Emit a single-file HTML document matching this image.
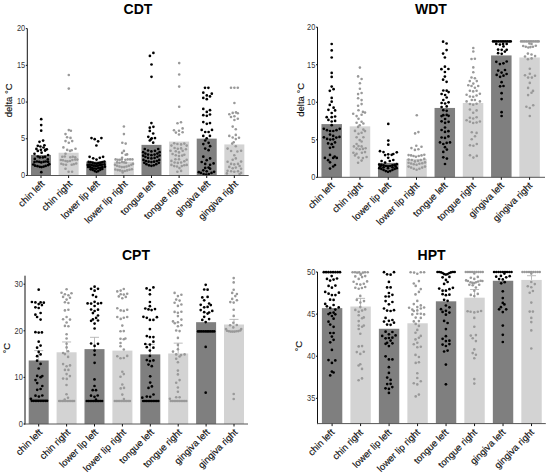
<!DOCTYPE html><html><head><meta charset="utf-8"><style>html,body{margin:0;padding:0;background:#fff;width:550px;height:474px;overflow:hidden}svg{display:block}text{font-family:"Liberation Sans",sans-serif}</style></head><body>
<svg width="550" height="474" viewBox="0 0 550 474">
<rect x="31.00" y="154.93" width="20.00" height="20.57" fill="#7f7f7f"/>
<rect x="58.62" y="152.73" width="20.00" height="22.77" fill="#d3d3d3"/>
<rect x="86.24" y="161.54" width="20.00" height="13.96" fill="#7f7f7f"/>
<rect x="113.86" y="161.76" width="20.00" height="13.74" fill="#d3d3d3"/>
<rect x="141.48" y="144.87" width="20.00" height="30.63" fill="#7f7f7f"/>
<rect x="169.10" y="141.57" width="20.00" height="33.93" fill="#d3d3d3"/>
<rect x="196.72" y="138.63" width="20.00" height="36.87" fill="#7f7f7f"/>
<rect x="224.34" y="144.43" width="20.00" height="31.07" fill="#d3d3d3"/>
<g fill="#000"><circle cx="41.2" cy="119.2" r="1.35"/><circle cx="41.2" cy="125.1" r="1.35"/><circle cx="41.2" cy="130.7" r="1.35"/><circle cx="39.5" cy="141.8" r="1.35"/><circle cx="43.1" cy="140.6" r="1.35"/><circle cx="37.8" cy="145.8" r="1.35"/><circle cx="40.4" cy="146.5" r="1.35"/><circle cx="44.4" cy="145.3" r="1.35"/><circle cx="43.5" cy="147.5" r="1.35"/><circle cx="36.4" cy="148.9" r="1.35"/><circle cx="40.9" cy="149.8" r="1.35"/><circle cx="45.3" cy="149.8" r="1.35"/><circle cx="46.8" cy="149.3" r="1.35"/><circle cx="37.8" cy="150.9" r="1.35"/><circle cx="41.6" cy="152.7" r="1.35"/><circle cx="45.1" cy="150.6" r="1.35"/><circle cx="34.5" cy="153.8" r="1.35"/><circle cx="48.1" cy="155.0" r="1.35"/><circle cx="37.8" cy="156.5" r="1.35"/><circle cx="39.8" cy="157.4" r="1.35"/><circle cx="42.8" cy="157.4" r="1.35"/><circle cx="45.1" cy="156.8" r="1.35"/><circle cx="34.8" cy="158.9" r="1.35"/><circle cx="47.8" cy="159.4" r="1.35"/><circle cx="34.5" cy="162.1" r="1.35"/><circle cx="36.9" cy="161.5" r="1.35"/><circle cx="39.2" cy="161.8" r="1.35"/><circle cx="41.3" cy="162.4" r="1.35"/><circle cx="43.7" cy="161.8" r="1.35"/><circle cx="45.7" cy="161.5" r="1.35"/><circle cx="48.1" cy="161.8" r="1.35"/><circle cx="33.3" cy="164.5" r="1.35"/><circle cx="35.1" cy="165.7" r="1.35"/><circle cx="37.5" cy="166.2" r="1.35"/><circle cx="39.8" cy="166.8" r="1.35"/><circle cx="41.6" cy="167.1" r="1.35"/><circle cx="43.7" cy="166.6" r="1.35"/><circle cx="45.7" cy="165.9" r="1.35"/><circle cx="48.1" cy="165.1" r="1.35"/><circle cx="49.3" cy="164.2" r="1.35"/><circle cx="41.3" cy="172.2" r="1.35"/></g>
<g fill="#999"><circle cx="68.8" cy="75.0" r="1.3"/><circle cx="68.8" cy="88.6" r="1.3"/><circle cx="68.8" cy="130.1" r="1.3"/><circle cx="70.9" cy="130.8" r="1.3"/><circle cx="65.5" cy="134.1" r="1.3"/><circle cx="67.1" cy="137.2" r="1.3"/><circle cx="70.5" cy="137.9" r="1.3"/><circle cx="65.5" cy="141.1" r="1.3"/><circle cx="68.8" cy="142.8" r="1.3"/><circle cx="72.2" cy="141.1" r="1.3"/><circle cx="63.4" cy="147.4" r="1.3"/><circle cx="67.2" cy="149.9" r="1.3"/><circle cx="70.0" cy="150.9" r="1.3"/><circle cx="71.7" cy="150.2" r="1.3"/><circle cx="75.5" cy="148.8" r="1.3"/><circle cx="65.5" cy="153.7" r="1.3"/><circle cx="62.3" cy="156.8" r="1.3"/><circle cx="64.8" cy="156.5" r="1.3"/><circle cx="70.3" cy="157.2" r="1.3"/><circle cx="72.8" cy="156.8" r="1.3"/><circle cx="75.2" cy="157.2" r="1.3"/><circle cx="60.9" cy="160.0" r="1.3"/><circle cx="63.0" cy="160.3" r="1.3"/><circle cx="65.5" cy="161.0" r="1.3"/><circle cx="67.5" cy="161.4" r="1.3"/><circle cx="70.0" cy="161.0" r="1.3"/><circle cx="72.4" cy="160.0" r="1.3"/><circle cx="75.2" cy="159.6" r="1.3"/><circle cx="77.3" cy="159.6" r="1.3"/><circle cx="61.3" cy="163.8" r="1.3"/><circle cx="63.4" cy="164.5" r="1.3"/><circle cx="66.1" cy="164.8" r="1.3"/><circle cx="71.7" cy="164.8" r="1.3"/><circle cx="73.8" cy="164.2" r="1.3"/><circle cx="76.2" cy="163.5" r="1.3"/><circle cx="65.5" cy="168.7" r="1.3"/><circle cx="68.6" cy="171.8" r="1.3"/><circle cx="72.1" cy="171.8" r="1.3"/></g>
<g fill="#000"><circle cx="91.5" cy="138.1" r="1.35"/><circle cx="94.7" cy="139.2" r="1.35"/><circle cx="101.4" cy="138.1" r="1.35"/><circle cx="98.1" cy="141.3" r="1.35"/><circle cx="96.4" cy="145.5" r="1.35"/><circle cx="89.6" cy="156.8" r="1.35"/><circle cx="93.2" cy="158.3" r="1.35"/><circle cx="96.5" cy="159.6" r="1.35"/><circle cx="99.8" cy="157.8" r="1.35"/><circle cx="103.1" cy="156.8" r="1.35"/><circle cx="88.6" cy="161.9" r="1.35"/><circle cx="90.6" cy="162.2" r="1.35"/><circle cx="92.7" cy="162.7" r="1.35"/><circle cx="94.7" cy="163.4" r="1.35"/><circle cx="96.5" cy="163.7" r="1.35"/><circle cx="98.3" cy="163.2" r="1.35"/><circle cx="100.3" cy="162.7" r="1.35"/><circle cx="102.3" cy="162.2" r="1.35"/><circle cx="104.4" cy="161.6" r="1.35"/><circle cx="87.8" cy="164.9" r="1.35"/><circle cx="89.6" cy="164.7" r="1.35"/><circle cx="91.7" cy="165.2" r="1.35"/><circle cx="93.7" cy="165.7" r="1.35"/><circle cx="95.7" cy="166.2" r="1.35"/><circle cx="97.8" cy="165.7" r="1.35"/><circle cx="99.8" cy="165.2" r="1.35"/><circle cx="101.8" cy="164.7" r="1.35"/><circle cx="104.4" cy="164.4" r="1.35"/><circle cx="88.1" cy="167.0" r="1.35"/><circle cx="90.1" cy="167.2" r="1.35"/><circle cx="92.2" cy="167.8" r="1.35"/><circle cx="94.2" cy="168.5" r="1.35"/><circle cx="96.2" cy="168.8" r="1.35"/><circle cx="98.3" cy="168.2" r="1.35"/><circle cx="100.3" cy="167.8" r="1.35"/><circle cx="102.3" cy="167.2" r="1.35"/><circle cx="104.9" cy="166.7" r="1.35"/><circle cx="90.6" cy="169.3" r="1.35"/><circle cx="92.7" cy="170.0" r="1.35"/><circle cx="94.7" cy="171.1" r="1.35"/><circle cx="96.5" cy="171.8" r="1.35"/><circle cx="98.3" cy="171.1" r="1.35"/><circle cx="100.3" cy="169.8" r="1.35"/><circle cx="102.3" cy="169.0" r="1.35"/></g>
<g fill="#999"><circle cx="123.9" cy="126.5" r="1.3"/><circle cx="123.9" cy="134.1" r="1.3"/><circle cx="122.3" cy="142.7" r="1.3"/><circle cx="125.7" cy="143.6" r="1.3"/><circle cx="123.9" cy="150.9" r="1.3"/><circle cx="122.1" cy="152.9" r="1.3"/><circle cx="125.7" cy="154.7" r="1.3"/><circle cx="127.1" cy="154.4" r="1.3"/><circle cx="122.1" cy="157.7" r="1.3"/><circle cx="115.6" cy="159.4" r="1.3"/><circle cx="117.7" cy="159.8" r="1.3"/><circle cx="119.8" cy="159.8" r="1.3"/><circle cx="121.8" cy="159.4" r="1.3"/><circle cx="125.4" cy="159.8" r="1.3"/><circle cx="127.7" cy="159.4" r="1.3"/><circle cx="130.1" cy="159.4" r="1.3"/><circle cx="132.4" cy="159.4" r="1.3"/><circle cx="117.1" cy="162.4" r="1.3"/><circle cx="119.5" cy="162.7" r="1.3"/><circle cx="122.1" cy="162.1" r="1.3"/><circle cx="124.2" cy="162.4" r="1.3"/><circle cx="126.0" cy="162.7" r="1.3"/><circle cx="115.0" cy="164.8" r="1.3"/><circle cx="117.1" cy="165.7" r="1.3"/><circle cx="119.5" cy="166.5" r="1.3"/><circle cx="121.8" cy="167.1" r="1.3"/><circle cx="124.2" cy="167.1" r="1.3"/><circle cx="126.5" cy="166.5" r="1.3"/><circle cx="128.9" cy="165.7" r="1.3"/><circle cx="131.3" cy="164.8" r="1.3"/><circle cx="133.0" cy="163.9" r="1.3"/><circle cx="115.3" cy="169.5" r="1.3"/><circle cx="117.7" cy="170.1" r="1.3"/><circle cx="120.0" cy="170.4" r="1.3"/><circle cx="122.4" cy="171.0" r="1.3"/><circle cx="124.8" cy="171.0" r="1.3"/><circle cx="127.1" cy="170.4" r="1.3"/><circle cx="129.5" cy="169.8" r="1.3"/><circle cx="131.9" cy="169.2" r="1.3"/><circle cx="122.7" cy="172.4" r="1.3"/></g>
<g fill="#000"><circle cx="153.4" cy="52.9" r="1.35"/><circle cx="149.9" cy="55.9" r="1.35"/><circle cx="151.5" cy="64.5" r="1.35"/><circle cx="151.5" cy="76.8" r="1.35"/><circle cx="151.4" cy="123.1" r="1.35"/><circle cx="149.8" cy="127.7" r="1.35"/><circle cx="153.4" cy="126.8" r="1.35"/><circle cx="149.8" cy="130.9" r="1.35"/><circle cx="153.2" cy="133.5" r="1.35"/><circle cx="148.3" cy="136.8" r="1.35"/><circle cx="151.7" cy="138.3" r="1.35"/><circle cx="155.0" cy="138.1" r="1.35"/><circle cx="149.8" cy="140.5" r="1.35"/><circle cx="150.9" cy="139.4" r="1.35"/><circle cx="153.2" cy="142.7" r="1.35"/><circle cx="144.8" cy="149.0" r="1.35"/><circle cx="148.1" cy="150.5" r="1.35"/><circle cx="151.4" cy="151.4" r="1.35"/><circle cx="155.0" cy="150.8" r="1.35"/><circle cx="158.2" cy="149.0" r="1.35"/><circle cx="143.2" cy="152.2" r="1.35"/><circle cx="145.4" cy="153.6" r="1.35"/><circle cx="148.1" cy="154.6" r="1.35"/><circle cx="151.4" cy="155.2" r="1.35"/><circle cx="154.6" cy="154.6" r="1.35"/><circle cx="157.4" cy="153.6" r="1.35"/><circle cx="159.6" cy="152.2" r="1.35"/><circle cx="143.2" cy="155.7" r="1.35"/><circle cx="145.4" cy="156.8" r="1.35"/><circle cx="148.1" cy="157.9" r="1.35"/><circle cx="151.4" cy="158.4" r="1.35"/><circle cx="154.6" cy="157.9" r="1.35"/><circle cx="157.4" cy="156.8" r="1.35"/><circle cx="159.6" cy="155.5" r="1.35"/><circle cx="143.5" cy="159.9" r="1.35"/><circle cx="145.9" cy="161.0" r="1.35"/><circle cx="148.6" cy="161.7" r="1.35"/><circle cx="151.4" cy="162.1" r="1.35"/><circle cx="154.1" cy="161.7" r="1.35"/><circle cx="156.8" cy="161.0" r="1.35"/><circle cx="159.2" cy="159.9" r="1.35"/><circle cx="144.3" cy="162.8" r="1.35"/><circle cx="146.4" cy="164.2" r="1.35"/><circle cx="149.0" cy="165.3" r="1.35"/><circle cx="151.4" cy="165.8" r="1.35"/><circle cx="153.8" cy="165.3" r="1.35"/><circle cx="156.3" cy="164.2" r="1.35"/><circle cx="158.8" cy="162.8" r="1.35"/></g>
<g fill="#999"><circle cx="179.2" cy="63.1" r="1.3"/><circle cx="179.2" cy="74.5" r="1.3"/><circle cx="179.2" cy="86.6" r="1.3"/><circle cx="179.2" cy="106.7" r="1.3"/><circle cx="177.5" cy="123.2" r="1.3"/><circle cx="181.0" cy="122.2" r="1.3"/><circle cx="182.6" cy="128.4" r="1.3"/><circle cx="174.0" cy="130.2" r="1.3"/><circle cx="179.0" cy="130.8" r="1.3"/><circle cx="175.9" cy="132.6" r="1.3"/><circle cx="182.6" cy="132.3" r="1.3"/><circle cx="179.0" cy="134.5" r="1.3"/><circle cx="174.2" cy="143.2" r="1.3"/><circle cx="177.4" cy="144.0" r="1.3"/><circle cx="181.1" cy="144.4" r="1.3"/><circle cx="184.3" cy="143.6" r="1.3"/><circle cx="171.4" cy="145.6" r="1.3"/><circle cx="186.7" cy="145.6" r="1.3"/><circle cx="174.6" cy="148.0" r="1.3"/><circle cx="177.8" cy="148.8" r="1.3"/><circle cx="181.1" cy="148.4" r="1.3"/><circle cx="185.9" cy="149.2" r="1.3"/><circle cx="170.6" cy="150.8" r="1.3"/><circle cx="175.8" cy="151.2" r="1.3"/><circle cx="182.7" cy="150.8" r="1.3"/><circle cx="179.0" cy="152.4" r="1.3"/><circle cx="172.6" cy="154.0" r="1.3"/><circle cx="175.8" cy="155.2" r="1.3"/><circle cx="179.0" cy="156.1" r="1.3"/><circle cx="182.2" cy="155.6" r="1.3"/><circle cx="184.3" cy="154.8" r="1.3"/><circle cx="175.4" cy="159.3" r="1.3"/><circle cx="179.0" cy="159.3" r="1.3"/><circle cx="186.7" cy="159.7" r="1.3"/><circle cx="171.4" cy="160.9" r="1.3"/><circle cx="174.6" cy="162.5" r="1.3"/><circle cx="177.8" cy="162.9" r="1.3"/><circle cx="181.1" cy="162.5" r="1.3"/><circle cx="184.3" cy="161.3" r="1.3"/><circle cx="171.4" cy="164.9" r="1.3"/><circle cx="174.2" cy="166.1" r="1.3"/><circle cx="177.0" cy="166.5" r="1.3"/><circle cx="179.4" cy="168.1" r="1.3"/><circle cx="181.8" cy="166.1" r="1.3"/><circle cx="184.3" cy="165.3" r="1.3"/><circle cx="186.7" cy="164.9" r="1.3"/><circle cx="177.4" cy="171.7" r="1.3"/><circle cx="181.1" cy="170.9" r="1.3"/></g>
<g fill="#000"><circle cx="205.0" cy="87.8" r="1.35"/><circle cx="208.4" cy="87.8" r="1.35"/><circle cx="203.3" cy="92.7" r="1.35"/><circle cx="211.8" cy="93.7" r="1.35"/><circle cx="206.8" cy="95.4" r="1.35"/><circle cx="210.0" cy="96.4" r="1.35"/><circle cx="203.3" cy="97.9" r="1.35"/><circle cx="206.8" cy="99.2" r="1.35"/><circle cx="203.3" cy="108.9" r="1.35"/><circle cx="210.0" cy="110.2" r="1.35"/><circle cx="206.8" cy="111.9" r="1.35"/><circle cx="203.3" cy="115.2" r="1.35"/><circle cx="206.8" cy="115.8" r="1.35"/><circle cx="210.0" cy="114.5" r="1.35"/><circle cx="203.3" cy="122.1" r="1.35"/><circle cx="206.8" cy="123.8" r="1.35"/><circle cx="210.0" cy="123.1" r="1.35"/><circle cx="201.7" cy="129.9" r="1.35"/><circle cx="205.2" cy="132.0" r="1.35"/><circle cx="208.6" cy="132.0" r="1.35"/><circle cx="212.0" cy="129.9" r="1.35"/><circle cx="203.3" cy="135.9" r="1.35"/><circle cx="209.9" cy="135.9" r="1.35"/><circle cx="206.7" cy="138.3" r="1.35"/><circle cx="205.2" cy="140.5" r="1.35"/><circle cx="208.6" cy="142.8" r="1.35"/><circle cx="203.3" cy="144.1" r="1.35"/><circle cx="210.1" cy="146.2" r="1.35"/><circle cx="205.2" cy="148.6" r="1.35"/><circle cx="208.6" cy="150.2" r="1.35"/><circle cx="203.3" cy="156.7" r="1.35"/><circle cx="210.1" cy="158.4" r="1.35"/><circle cx="206.7" cy="160.2" r="1.35"/><circle cx="201.7" cy="162.0" r="1.35"/><circle cx="205.2" cy="163.9" r="1.35"/><circle cx="210.1" cy="164.8" r="1.35"/><circle cx="213.6" cy="163.4" r="1.35"/><circle cx="205.2" cy="167.9" r="1.35"/><circle cx="208.6" cy="167.6" r="1.35"/><circle cx="210.1" cy="168.7" r="1.35"/><circle cx="203.3" cy="170.3" r="1.35"/><circle cx="206.7" cy="171.3" r="1.35"/><circle cx="198.8" cy="172.2" r="1.35"/><circle cx="200.9" cy="172.9" r="1.35"/><circle cx="203.6" cy="174.0" r="1.35"/><circle cx="206.2" cy="174.5" r="1.35"/><circle cx="208.8" cy="174.0" r="1.35"/><circle cx="211.5" cy="172.9" r="1.35"/><circle cx="214.1" cy="171.8" r="1.35"/></g>
<g fill="#999"><circle cx="231.0" cy="87.8" r="1.3"/><circle cx="234.4" cy="87.8" r="1.3"/><circle cx="237.8" cy="87.8" r="1.3"/><circle cx="234.4" cy="103.0" r="1.3"/><circle cx="229.3" cy="114.3" r="1.3"/><circle cx="232.7" cy="112.9" r="1.3"/><circle cx="236.0" cy="112.4" r="1.3"/><circle cx="237.8" cy="113.2" r="1.3"/><circle cx="231.0" cy="117.0" r="1.3"/><circle cx="234.4" cy="116.3" r="1.3"/><circle cx="237.8" cy="118.7" r="1.3"/><circle cx="234.4" cy="120.0" r="1.3"/><circle cx="232.7" cy="126.6" r="1.3"/><circle cx="235.8" cy="129.3" r="1.3"/><circle cx="235.8" cy="134.9" r="1.3"/><circle cx="229.3" cy="135.9" r="1.3"/><circle cx="232.7" cy="137.5" r="1.3"/><circle cx="239.0" cy="137.7" r="1.3"/><circle cx="235.8" cy="139.1" r="1.3"/><circle cx="233.7" cy="142.3" r="1.3"/><circle cx="232.2" cy="143.6" r="1.3"/><circle cx="235.8" cy="146.2" r="1.3"/><circle cx="227.6" cy="148.6" r="1.3"/><circle cx="231.1" cy="151.0" r="1.3"/><circle cx="237.4" cy="151.5" r="1.3"/><circle cx="241.1" cy="150.7" r="1.3"/><circle cx="234.3" cy="155.3" r="1.3"/><circle cx="235.8" cy="158.4" r="1.3"/><circle cx="232.7" cy="159.7" r="1.3"/><circle cx="227.6" cy="161.8" r="1.3"/><circle cx="241.1" cy="161.6" r="1.3"/><circle cx="231.1" cy="163.9" r="1.3"/><circle cx="234.3" cy="164.4" r="1.3"/><circle cx="238.0" cy="163.9" r="1.3"/><circle cx="239.6" cy="166.0" r="1.3"/><circle cx="229.3" cy="166.9" r="1.3"/><circle cx="232.7" cy="168.2" r="1.3"/><circle cx="235.8" cy="167.6" r="1.3"/><circle cx="241.1" cy="168.7" r="1.3"/><circle cx="227.6" cy="170.8" r="1.3"/><circle cx="231.1" cy="171.3" r="1.3"/><circle cx="234.3" cy="171.8" r="1.3"/><circle cx="238.0" cy="171.3" r="1.3"/><circle cx="241.1" cy="172.9" r="1.3"/><circle cx="226.9" cy="173.4" r="1.3"/><circle cx="239.6" cy="174.0" r="1.3"/></g>
<path d="M27.3,28.6 V176.0" fill="none" stroke="#111" stroke-width="1"/>
<path d="M26.8,175.5 H248.7" fill="none" stroke="#555" stroke-width="1"/>
<path d="M25.8,175.50 H27.3" stroke="#111" stroke-width="1"/>
<text transform="translate(25.1,177.70) scale(0.88,1)" font-size="8.4" fill="#333" text-anchor="end">0</text>
<path d="M25.8,138.78 H27.3" stroke="#111" stroke-width="1"/>
<text transform="translate(25.1,140.97) scale(0.88,1)" font-size="8.4" fill="#333" text-anchor="end">5</text>
<path d="M25.8,102.05 H27.3" stroke="#111" stroke-width="1"/>
<text transform="translate(25.1,104.25) scale(0.88,1)" font-size="8.4" fill="#333" text-anchor="end">10</text>
<path d="M25.8,65.32 H27.3" stroke="#111" stroke-width="1"/>
<text transform="translate(25.1,67.52) scale(0.88,1)" font-size="8.4" fill="#333" text-anchor="end">15</text>
<path d="M25.8,28.60 H27.3" stroke="#111" stroke-width="1"/>
<text transform="translate(25.1,30.80) scale(0.88,1)" font-size="8.4" fill="#333" text-anchor="end">20</text>
<path d="M41.00,175.5 V178.0" stroke="#111" stroke-width="1"/>
<text transform="translate(45.20,184.30) rotate(-45)" font-size="9.5" fill="#111" stroke="#111" stroke-width="0.15" text-anchor="end">chin left</text>
<path d="M68.62,175.5 V178.0" stroke="#111" stroke-width="1"/>
<text transform="translate(72.82,184.30) rotate(-45)" font-size="9.5" fill="#111" stroke="#111" stroke-width="0.15" text-anchor="end">chin right</text>
<path d="M96.24,175.5 V178.0" stroke="#111" stroke-width="1"/>
<text transform="translate(100.44,184.30) rotate(-45)" font-size="9.5" fill="#111" stroke="#111" stroke-width="0.15" text-anchor="end">lower lip left</text>
<path d="M123.86,175.5 V178.0" stroke="#111" stroke-width="1"/>
<text transform="translate(128.06,184.30) rotate(-45)" font-size="9.5" fill="#111" stroke="#111" stroke-width="0.15" text-anchor="end">lower lip right</text>
<path d="M151.48,175.5 V178.0" stroke="#111" stroke-width="1"/>
<text transform="translate(155.68,184.30) rotate(-45)" font-size="9.5" fill="#111" stroke="#111" stroke-width="0.15" text-anchor="end">tongue left</text>
<path d="M179.10,175.5 V178.0" stroke="#111" stroke-width="1"/>
<text transform="translate(183.30,184.30) rotate(-45)" font-size="9.5" fill="#111" stroke="#111" stroke-width="0.15" text-anchor="end">tongue right</text>
<path d="M206.72,175.5 V178.0" stroke="#111" stroke-width="1"/>
<text transform="translate(210.92,184.30) rotate(-45)" font-size="9.5" fill="#111" stroke="#111" stroke-width="0.15" text-anchor="end">gingiva left</text>
<path d="M234.34,175.5 V178.0" stroke="#111" stroke-width="1"/>
<text transform="translate(238.54,184.30) rotate(-45)" font-size="9.5" fill="#111" stroke="#111" stroke-width="0.15" text-anchor="end">gingiva right</text>
<text x="138" y="14" font-size="14" font-weight="bold" fill="#000" text-anchor="middle">CDT</text>
<text transform="translate(11.5,100.3) rotate(-90)" font-size="9.5" fill="#111" stroke="#111" stroke-width="0.15" text-anchor="middle">delta °C</text>
<rect x="321.45" y="124.09" width="20.50" height="53.21" fill="#7f7f7f"/>
<rect x="349.72" y="126.34" width="20.50" height="50.96" fill="#d3d3d3"/>
<rect x="377.99" y="162.89" width="20.50" height="14.41" fill="#7f7f7f"/>
<rect x="406.26" y="158.91" width="20.50" height="18.39" fill="#d3d3d3"/>
<rect x="434.53" y="107.95" width="20.50" height="69.35" fill="#7f7f7f"/>
<rect x="462.80" y="103.00" width="20.50" height="74.30" fill="#d3d3d3"/>
<rect x="491.07" y="55.42" width="20.50" height="121.88" fill="#7f7f7f"/>
<rect x="519.34" y="57.45" width="20.50" height="119.85" fill="#d3d3d3"/>
<g fill="#000"><circle cx="331.7" cy="44.0" r="1.35"/><circle cx="331.7" cy="50.4" r="1.35"/><circle cx="331.7" cy="57.5" r="1.35"/><circle cx="331.7" cy="72.9" r="1.35"/><circle cx="331.7" cy="76.9" r="1.35"/><circle cx="331.7" cy="86.6" r="1.35"/><circle cx="333.6" cy="89.2" r="1.35"/><circle cx="329.8" cy="90.8" r="1.35"/><circle cx="331.7" cy="97.9" r="1.35"/><circle cx="331.7" cy="101.7" r="1.35"/><circle cx="329.8" cy="104.9" r="1.35"/><circle cx="333.6" cy="107.7" r="1.35"/><circle cx="328.4" cy="109.8" r="1.35"/><circle cx="335.1" cy="110.4" r="1.35"/><circle cx="331.7" cy="113.0" r="1.35"/><circle cx="326.7" cy="117.2" r="1.35"/><circle cx="331.7" cy="117.2" r="1.35"/><circle cx="335.1" cy="116.5" r="1.35"/><circle cx="328.4" cy="119.9" r="1.35"/><circle cx="331.7" cy="121.5" r="1.35"/><circle cx="335.1" cy="120.9" r="1.35"/><circle cx="331.7" cy="125.2" r="1.35"/><circle cx="323.8" cy="128.8" r="1.35"/><circle cx="327.0" cy="130.2" r="1.35"/><circle cx="330.1" cy="131.0" r="1.35"/><circle cx="333.3" cy="131.0" r="1.35"/><circle cx="336.5" cy="130.2" r="1.35"/><circle cx="339.7" cy="128.8" r="1.35"/><circle cx="330.0" cy="134.6" r="1.35"/><circle cx="333.2" cy="135.9" r="1.35"/><circle cx="323.9" cy="137.3" r="1.35"/><circle cx="327.1" cy="138.9" r="1.35"/><circle cx="330.2" cy="139.6" r="1.35"/><circle cx="333.2" cy="139.3" r="1.35"/><circle cx="336.3" cy="137.6" r="1.35"/><circle cx="339.5" cy="136.9" r="1.35"/><circle cx="328.1" cy="143.4" r="1.35"/><circle cx="331.7" cy="144.2" r="1.35"/><circle cx="335.0" cy="142.4" r="1.35"/><circle cx="330.0" cy="147.8" r="1.35"/><circle cx="333.2" cy="147.0" r="1.35"/><circle cx="330.0" cy="154.9" r="1.35"/><circle cx="324.9" cy="157.9" r="1.35"/><circle cx="333.2" cy="157.9" r="1.35"/><circle cx="334.7" cy="156.6" r="1.35"/><circle cx="336.8" cy="157.9" r="1.35"/><circle cx="328.1" cy="160.2" r="1.35"/><circle cx="330.0" cy="162.3" r="1.35"/><circle cx="335.0" cy="165.0" r="1.35"/><circle cx="333.2" cy="166.5" r="1.35"/><circle cx="330.0" cy="168.6" r="1.35"/></g>
<g fill="#999"><circle cx="359.9" cy="67.6" r="1.3"/><circle cx="358.1" cy="76.4" r="1.3"/><circle cx="361.6" cy="79.0" r="1.3"/><circle cx="359.9" cy="83.2" r="1.3"/><circle cx="359.9" cy="88.8" r="1.3"/><circle cx="358.1" cy="94.1" r="1.3"/><circle cx="361.6" cy="93.0" r="1.3"/><circle cx="358.1" cy="98.3" r="1.3"/><circle cx="361.6" cy="100.1" r="1.3"/><circle cx="361.6" cy="104.1" r="1.3"/><circle cx="358.1" cy="105.7" r="1.3"/><circle cx="358.5" cy="110.2" r="1.3"/><circle cx="362.9" cy="111.9" r="1.3"/><circle cx="365.0" cy="112.6" r="1.3"/><circle cx="353.2" cy="113.7" r="1.3"/><circle cx="361.6" cy="114.8" r="1.3"/><circle cx="356.6" cy="116.1" r="1.3"/><circle cx="358.5" cy="118.7" r="1.3"/><circle cx="356.6" cy="122.7" r="1.3"/><circle cx="361.6" cy="121.8" r="1.3"/><circle cx="363.4" cy="123.5" r="1.3"/><circle cx="359.7" cy="125.3" r="1.3"/><circle cx="358.1" cy="126.9" r="1.3"/><circle cx="355.0" cy="130.9" r="1.3"/><circle cx="363.4" cy="129.6" r="1.3"/><circle cx="365.0" cy="131.1" r="1.3"/><circle cx="358.5" cy="133.8" r="1.3"/><circle cx="361.6" cy="132.7" r="1.3"/><circle cx="356.6" cy="137.3" r="1.3"/><circle cx="363.4" cy="137.3" r="1.3"/><circle cx="359.7" cy="140.1" r="1.3"/><circle cx="361.6" cy="141.5" r="1.3"/><circle cx="356.6" cy="144.0" r="1.3"/><circle cx="353.9" cy="146.4" r="1.3"/><circle cx="358.5" cy="146.1" r="1.3"/><circle cx="361.6" cy="146.4" r="1.3"/><circle cx="356.6" cy="148.6" r="1.3"/><circle cx="359.7" cy="149.3" r="1.3"/><circle cx="362.9" cy="148.9" r="1.3"/><circle cx="365.6" cy="148.2" r="1.3"/><circle cx="353.4" cy="152.8" r="1.3"/><circle cx="356.6" cy="153.8" r="1.3"/><circle cx="361.9" cy="152.8" r="1.3"/><circle cx="365.0" cy="152.1" r="1.3"/><circle cx="355.0" cy="155.4" r="1.3"/><circle cx="358.5" cy="157.6" r="1.3"/><circle cx="362.9" cy="158.1" r="1.3"/><circle cx="366.6" cy="157.0" r="1.3"/><circle cx="361.6" cy="160.6" r="1.3"/><circle cx="358.1" cy="162.7" r="1.3"/></g>
<g fill="#000"><circle cx="388.3" cy="123.9" r="1.35"/><circle cx="388.3" cy="140.6" r="1.35"/><circle cx="388.3" cy="144.7" r="1.35"/><circle cx="380.0" cy="151.2" r="1.35"/><circle cx="383.5" cy="152.1" r="1.35"/><circle cx="385.1" cy="155.1" r="1.35"/><circle cx="388.2" cy="154.3" r="1.35"/><circle cx="391.7" cy="154.8" r="1.35"/><circle cx="393.3" cy="154.0" r="1.35"/><circle cx="396.8" cy="152.3" r="1.35"/><circle cx="388.2" cy="157.8" r="1.35"/><circle cx="381.6" cy="161.0" r="1.35"/><circle cx="385.1" cy="162.6" r="1.35"/><circle cx="389.8" cy="161.0" r="1.35"/><circle cx="393.3" cy="160.0" r="1.35"/><circle cx="379.3" cy="164.6" r="1.35"/><circle cx="381.4" cy="164.9" r="1.35"/><circle cx="383.6" cy="165.3" r="1.35"/><circle cx="385.8" cy="166.0" r="1.35"/><circle cx="388.0" cy="166.4" r="1.35"/><circle cx="390.2" cy="166.0" r="1.35"/><circle cx="392.4" cy="165.3" r="1.35"/><circle cx="394.6" cy="164.9" r="1.35"/><circle cx="396.7" cy="164.2" r="1.35"/><circle cx="380.4" cy="166.4" r="1.35"/><circle cx="383.6" cy="167.3" r="1.35"/><circle cx="388.0" cy="168.2" r="1.35"/><circle cx="392.4" cy="167.3" r="1.35"/><circle cx="395.6" cy="166.4" r="1.35"/><circle cx="379.3" cy="168.2" r="1.35"/><circle cx="381.4" cy="168.9" r="1.35"/><circle cx="383.6" cy="170.0" r="1.35"/><circle cx="385.8" cy="171.1" r="1.35"/><circle cx="388.0" cy="171.8" r="1.35"/><circle cx="390.2" cy="171.1" r="1.35"/><circle cx="392.4" cy="170.0" r="1.35"/><circle cx="394.6" cy="168.9" r="1.35"/><circle cx="396.7" cy="168.2" r="1.35"/></g>
<g fill="#999"><circle cx="416.8" cy="115.2" r="1.3"/><circle cx="415.1" cy="133.4" r="1.3"/><circle cx="418.4" cy="132.1" r="1.3"/><circle cx="416.3" cy="145.7" r="1.3"/><circle cx="421.5" cy="146.7" r="1.3"/><circle cx="411.4" cy="148.1" r="1.3"/><circle cx="414.9" cy="149.9" r="1.3"/><circle cx="418.4" cy="149.2" r="1.3"/><circle cx="408.6" cy="155.1" r="1.3"/><circle cx="411.1" cy="155.4" r="1.3"/><circle cx="413.5" cy="156.0" r="1.3"/><circle cx="415.9" cy="156.8" r="1.3"/><circle cx="418.7" cy="156.0" r="1.3"/><circle cx="421.5" cy="155.4" r="1.3"/><circle cx="424.3" cy="154.8" r="1.3"/><circle cx="408.6" cy="159.6" r="1.3"/><circle cx="411.8" cy="160.0" r="1.3"/><circle cx="414.9" cy="161.4" r="1.3"/><circle cx="418.0" cy="160.7" r="1.3"/><circle cx="420.8" cy="160.0" r="1.3"/><circle cx="424.3" cy="158.9" r="1.3"/><circle cx="408.6" cy="162.8" r="1.3"/><circle cx="411.1" cy="163.5" r="1.3"/><circle cx="413.8" cy="164.2" r="1.3"/><circle cx="416.6" cy="164.8" r="1.3"/><circle cx="419.4" cy="163.8" r="1.3"/><circle cx="422.2" cy="163.2" r="1.3"/><circle cx="425.0" cy="162.4" r="1.3"/><circle cx="408.6" cy="166.6" r="1.3"/><circle cx="411.1" cy="167.6" r="1.3"/><circle cx="413.8" cy="168.7" r="1.3"/><circle cx="416.6" cy="169.7" r="1.3"/><circle cx="419.4" cy="168.7" r="1.3"/><circle cx="422.2" cy="167.6" r="1.3"/><circle cx="425.0" cy="166.6" r="1.3"/></g>
<g fill="#000"><circle cx="443.1" cy="41.7" r="1.35"/><circle cx="446.6" cy="43.5" r="1.35"/><circle cx="446.6" cy="50.1" r="1.35"/><circle cx="443.1" cy="53.6" r="1.35"/><circle cx="444.9" cy="57.5" r="1.35"/><circle cx="444.9" cy="66.7" r="1.35"/><circle cx="441.4" cy="69.2" r="1.35"/><circle cx="448.4" cy="69.0" r="1.35"/><circle cx="444.9" cy="72.0" r="1.35"/><circle cx="444.9" cy="76.6" r="1.35"/><circle cx="443.1" cy="79.7" r="1.35"/><circle cx="446.6" cy="81.8" r="1.35"/><circle cx="443.3" cy="90.5" r="1.35"/><circle cx="446.7" cy="90.7" r="1.35"/><circle cx="448.6" cy="92.1" r="1.35"/><circle cx="441.6" cy="94.0" r="1.35"/><circle cx="445.1" cy="95.0" r="1.35"/><circle cx="446.7" cy="97.5" r="1.35"/><circle cx="443.3" cy="100.0" r="1.35"/><circle cx="441.6" cy="103.0" r="1.35"/><circle cx="445.1" cy="103.5" r="1.35"/><circle cx="448.6" cy="102.3" r="1.35"/><circle cx="441.6" cy="107.0" r="1.35"/><circle cx="446.7" cy="106.4" r="1.35"/><circle cx="443.3" cy="110.2" r="1.35"/><circle cx="446.7" cy="110.8" r="1.35"/><circle cx="441.6" cy="116.1" r="1.35"/><circle cx="443.3" cy="115.2" r="1.35"/><circle cx="446.7" cy="114.9" r="1.35"/><circle cx="448.6" cy="115.8" r="1.35"/><circle cx="445.1" cy="119.0" r="1.35"/><circle cx="441.6" cy="121.3" r="1.35"/><circle cx="445.1" cy="122.8" r="1.35"/><circle cx="448.6" cy="121.8" r="1.35"/><circle cx="445.0" cy="127.5" r="1.35"/><circle cx="441.6" cy="130.0" r="1.35"/><circle cx="445.0" cy="131.9" r="1.35"/><circle cx="448.4" cy="131.2" r="1.35"/><circle cx="441.6" cy="137.5" r="1.35"/><circle cx="445.0" cy="137.9" r="1.35"/><circle cx="448.4" cy="136.4" r="1.35"/><circle cx="440.0" cy="142.4" r="1.35"/><circle cx="443.3" cy="144.0" r="1.35"/><circle cx="446.7" cy="142.9" r="1.35"/><circle cx="450.0" cy="142.4" r="1.35"/><circle cx="445.0" cy="147.2" r="1.35"/><circle cx="446.9" cy="149.6" r="1.35"/><circle cx="443.3" cy="151.9" r="1.35"/><circle cx="443.3" cy="157.3" r="1.35"/><circle cx="446.9" cy="158.6" r="1.35"/><circle cx="445.0" cy="164.0" r="1.35"/></g>
<g fill="#999"><circle cx="473.3" cy="48.0" r="1.3"/><circle cx="473.3" cy="51.5" r="1.3"/><circle cx="471.5" cy="59.0" r="1.3"/><circle cx="474.9" cy="58.7" r="1.3"/><circle cx="473.3" cy="67.4" r="1.3"/><circle cx="473.3" cy="72.3" r="1.3"/><circle cx="471.5" cy="77.5" r="1.3"/><circle cx="474.9" cy="78.3" r="1.3"/><circle cx="469.8" cy="81.1" r="1.3"/><circle cx="476.8" cy="81.1" r="1.3"/><circle cx="473.3" cy="83.6" r="1.3"/><circle cx="468.3" cy="85.2" r="1.3"/><circle cx="471.5" cy="86.0" r="1.3"/><circle cx="474.9" cy="87.8" r="1.3"/><circle cx="478.2" cy="86.0" r="1.3"/><circle cx="469.9" cy="90.8" r="1.3"/><circle cx="473.2" cy="91.4" r="1.3"/><circle cx="476.6" cy="90.8" r="1.3"/><circle cx="466.6" cy="94.8" r="1.3"/><circle cx="469.9" cy="96.5" r="1.3"/><circle cx="473.2" cy="96.8" r="1.3"/><circle cx="476.6" cy="95.5" r="1.3"/><circle cx="479.9" cy="93.8" r="1.3"/><circle cx="466.6" cy="101.4" r="1.3"/><circle cx="471.8" cy="100.0" r="1.3"/><circle cx="474.9" cy="100.0" r="1.3"/><circle cx="479.9" cy="101.4" r="1.3"/><circle cx="469.9" cy="104.0" r="1.3"/><circle cx="473.2" cy="104.7" r="1.3"/><circle cx="476.6" cy="103.8" r="1.3"/><circle cx="469.9" cy="109.5" r="1.3"/><circle cx="476.6" cy="110.4" r="1.3"/><circle cx="473.2" cy="112.8" r="1.3"/><circle cx="469.9" cy="117.7" r="1.3"/><circle cx="473.2" cy="118.5" r="1.3"/><circle cx="476.6" cy="117.3" r="1.3"/><circle cx="466.6" cy="120.2" r="1.3"/><circle cx="469.9" cy="121.8" r="1.3"/><circle cx="473.2" cy="123.0" r="1.3"/><circle cx="476.6" cy="122.5" r="1.3"/><circle cx="479.9" cy="121.5" r="1.3"/><circle cx="471.8" cy="132.2" r="1.3"/><circle cx="476.6" cy="132.9" r="1.3"/><circle cx="475.0" cy="136.3" r="1.3"/><circle cx="471.7" cy="139.3" r="1.3"/><circle cx="470.0" cy="145.2" r="1.3"/><circle cx="473.4" cy="145.7" r="1.3"/><circle cx="476.8" cy="144.0" r="1.3"/><circle cx="470.0" cy="155.2" r="1.3"/><circle cx="473.4" cy="157.6" r="1.3"/><circle cx="476.8" cy="155.9" r="1.3"/></g>
<g fill="#000"><circle cx="493.1" cy="41.4" r="1.35"/><circle cx="494.9" cy="41.4" r="1.35"/><circle cx="496.7" cy="41.4" r="1.35"/><circle cx="498.5" cy="41.4" r="1.35"/><circle cx="500.3" cy="41.4" r="1.35"/><circle cx="502.1" cy="41.4" r="1.35"/><circle cx="503.9" cy="41.4" r="1.35"/><circle cx="505.7" cy="41.4" r="1.35"/><circle cx="507.4" cy="41.4" r="1.35"/><circle cx="509.2" cy="41.4" r="1.35"/><circle cx="510.7" cy="41.4" r="1.35"/><circle cx="496.3" cy="43.9" r="1.35"/><circle cx="499.9" cy="44.6" r="1.35"/><circle cx="503.1" cy="43.9" r="1.35"/><circle cx="506.7" cy="43.9" r="1.35"/><circle cx="503.5" cy="46.4" r="1.35"/><circle cx="498.1" cy="49.6" r="1.35"/><circle cx="501.7" cy="49.8" r="1.35"/><circle cx="506.7" cy="49.8" r="1.35"/><circle cx="504.9" cy="51.6" r="1.35"/><circle cx="498.1" cy="53.2" r="1.35"/><circle cx="501.7" cy="53.8" r="1.35"/><circle cx="496.3" cy="61.8" r="1.35"/><circle cx="499.9" cy="64.1" r="1.35"/><circle cx="503.4" cy="63.3" r="1.35"/><circle cx="506.7" cy="61.5" r="1.35"/><circle cx="498.2" cy="70.6" r="1.35"/><circle cx="505.0" cy="70.0" r="1.35"/><circle cx="501.6" cy="72.6" r="1.35"/><circle cx="496.7" cy="74.9" r="1.35"/><circle cx="500.1" cy="76.8" r="1.35"/><circle cx="503.5" cy="75.7" r="1.35"/><circle cx="506.6" cy="74.0" r="1.35"/><circle cx="501.6" cy="82.2" r="1.35"/><circle cx="500.1" cy="86.3" r="1.35"/><circle cx="503.5" cy="86.0" r="1.35"/><circle cx="501.6" cy="93.2" r="1.35"/><circle cx="501.6" cy="99.1" r="1.35"/><circle cx="501.6" cy="112.2" r="1.35"/><circle cx="501.6" cy="116.0" r="1.35"/></g>
<g fill="#999"><circle cx="521.1" cy="41.4" r="1.3"/><circle cx="522.9" cy="41.4" r="1.3"/><circle cx="524.7" cy="41.4" r="1.3"/><circle cx="526.5" cy="41.4" r="1.3"/><circle cx="528.3" cy="41.4" r="1.3"/><circle cx="530.1" cy="41.4" r="1.3"/><circle cx="531.9" cy="41.4" r="1.3"/><circle cx="533.7" cy="41.4" r="1.3"/><circle cx="535.5" cy="41.4" r="1.3"/><circle cx="537.2" cy="41.4" r="1.3"/><circle cx="538.7" cy="41.4" r="1.3"/><circle cx="529.4" cy="43.5" r="1.3"/><circle cx="531.5" cy="43.9" r="1.3"/><circle cx="523.2" cy="46.0" r="1.3"/><circle cx="525.8" cy="46.8" r="1.3"/><circle cx="528.3" cy="47.5" r="1.3"/><circle cx="530.4" cy="47.1" r="1.3"/><circle cx="532.9" cy="46.8" r="1.3"/><circle cx="535.8" cy="45.7" r="1.3"/><circle cx="527.9" cy="53.6" r="1.3"/><circle cx="531.5" cy="54.5" r="1.3"/><circle cx="525.0" cy="56.5" r="1.3"/><circle cx="535.1" cy="56.1" r="1.3"/><circle cx="527.9" cy="59.3" r="1.3"/><circle cx="531.6" cy="58.4" r="1.3"/><circle cx="529.8" cy="68.8" r="1.3"/><circle cx="529.8" cy="73.8" r="1.3"/><circle cx="525.0" cy="75.3" r="1.3"/><circle cx="528.1" cy="77.6" r="1.3"/><circle cx="531.9" cy="77.6" r="1.3"/><circle cx="535.0" cy="75.7" r="1.3"/><circle cx="529.8" cy="82.9" r="1.3"/><circle cx="528.1" cy="87.9" r="1.3"/><circle cx="533.0" cy="90.9" r="1.3"/><circle cx="531.5" cy="92.8" r="1.3"/><circle cx="528.1" cy="95.1" r="1.3"/><circle cx="526.4" cy="106.8" r="1.3"/><circle cx="529.8" cy="108.0" r="1.3"/><circle cx="533.2" cy="105.3" r="1.3"/><circle cx="529.8" cy="116.0" r="1.3"/></g>
<path d="M317.5,27.2 V177.8" fill="none" stroke="#111" stroke-width="1"/>
<path d="M317.0,177.3 H545" fill="none" stroke="#555" stroke-width="1"/>
<path d="M316.0,177.30 H317.5" stroke="#111" stroke-width="1"/>
<text transform="translate(315.3,180.30) scale(0.88,1)" font-size="8.4" fill="#333" text-anchor="end">0</text>
<path d="M316.0,139.78 H317.5" stroke="#111" stroke-width="1"/>
<text transform="translate(315.3,142.78) scale(0.88,1)" font-size="8.4" fill="#333" text-anchor="end">5</text>
<path d="M316.0,102.25 H317.5" stroke="#111" stroke-width="1"/>
<text transform="translate(315.3,105.25) scale(0.88,1)" font-size="8.4" fill="#333" text-anchor="end">10</text>
<path d="M316.0,64.72 H317.5" stroke="#111" stroke-width="1"/>
<text transform="translate(315.3,67.72) scale(0.88,1)" font-size="8.4" fill="#333" text-anchor="end">15</text>
<path d="M316.0,27.20 H317.5" stroke="#111" stroke-width="1"/>
<text transform="translate(315.3,30.20) scale(0.88,1)" font-size="8.4" fill="#333" text-anchor="end">20</text>
<path d="M331.70,177.3 V179.8" stroke="#111" stroke-width="1"/>
<text transform="translate(335.10,186.10) rotate(-45)" font-size="9.5" fill="#111" stroke="#111" stroke-width="0.15" text-anchor="end">chin left</text>
<path d="M359.97,177.3 V179.8" stroke="#111" stroke-width="1"/>
<text transform="translate(363.37,186.10) rotate(-45)" font-size="9.5" fill="#111" stroke="#111" stroke-width="0.15" text-anchor="end">chin right</text>
<path d="M388.24,177.3 V179.8" stroke="#111" stroke-width="1"/>
<text transform="translate(391.64,186.10) rotate(-45)" font-size="9.5" fill="#111" stroke="#111" stroke-width="0.15" text-anchor="end">lower lip left</text>
<path d="M416.51,177.3 V179.8" stroke="#111" stroke-width="1"/>
<text transform="translate(419.91,186.10) rotate(-45)" font-size="9.5" fill="#111" stroke="#111" stroke-width="0.15" text-anchor="end">lower lip right</text>
<path d="M444.78,177.3 V179.8" stroke="#111" stroke-width="1"/>
<text transform="translate(448.18,186.10) rotate(-45)" font-size="9.5" fill="#111" stroke="#111" stroke-width="0.15" text-anchor="end">tongue left</text>
<path d="M473.05,177.3 V179.8" stroke="#111" stroke-width="1"/>
<text transform="translate(476.45,186.10) rotate(-45)" font-size="9.5" fill="#111" stroke="#111" stroke-width="0.15" text-anchor="end">tongue right</text>
<path d="M501.32,177.3 V179.8" stroke="#111" stroke-width="1"/>
<text transform="translate(504.72,186.10) rotate(-45)" font-size="9.5" fill="#111" stroke="#111" stroke-width="0.15" text-anchor="end">gingiva left</text>
<path d="M529.59,177.3 V179.8" stroke="#111" stroke-width="1"/>
<text transform="translate(532.99,186.10) rotate(-45)" font-size="9.5" fill="#111" stroke="#111" stroke-width="0.15" text-anchor="end">gingiva right</text>
<text x="431" y="14.2" font-size="14" font-weight="bold" fill="#000" text-anchor="middle">WDT</text>
<text transform="translate(303.7,99.8) rotate(-90)" font-size="9.5" fill="#111" stroke="#111" stroke-width="0.15" text-anchor="middle">delta °C</text>
<rect x="28.70" y="360.48" width="20.00" height="63.52" fill="#7f7f7f"/>
<rect x="56.60" y="352.28" width="20.00" height="71.72" fill="#d3d3d3"/>
<rect x="84.50" y="349.11" width="20.00" height="74.89" fill="#7f7f7f"/>
<rect x="112.40" y="350.61" width="20.00" height="73.39" fill="#d3d3d3"/>
<rect x="140.30" y="354.38" width="20.00" height="69.62" fill="#7f7f7f"/>
<rect x="168.20" y="353.49" width="20.00" height="70.51" fill="#d3d3d3"/>
<rect x="196.10" y="322.18" width="20.00" height="101.82" fill="#7f7f7f"/>
<rect x="224.00" y="324.51" width="20.00" height="99.49" fill="#d3d3d3"/>
<path d="M38.70,360.48 V350.61 M34.20,350.61 H43.20" stroke="#aaa" stroke-width="0.8" fill="none"/>
<path d="M66.60,352.28 V341.98 M62.10,341.98 H71.10" stroke="#aaa" stroke-width="0.8" fill="none"/>
<path d="M94.50,349.11 V337.32 M90.00,337.32 H99.00" stroke="#aaa" stroke-width="0.8" fill="none"/>
<path d="M150.30,354.38 V344.31 M145.80,344.31 H154.80" stroke="#aaa" stroke-width="0.8" fill="none"/>
<path d="M178.20,353.49 V343.15 M173.70,343.15 H182.70" stroke="#aaa" stroke-width="0.8" fill="none"/>
<path d="M234.00,324.51 V319.38 M229.50,319.38 H238.50" stroke="#aaa" stroke-width="0.8" fill="none"/>
<g fill="#000"><circle cx="38.7" cy="289.7" r="1.35"/><circle cx="31.9" cy="302.0" r="1.35"/><circle cx="35.4" cy="302.4" r="1.35"/><circle cx="38.7" cy="304.1" r="1.35"/><circle cx="40.6" cy="302.4" r="1.35"/><circle cx="43.8" cy="302.7" r="1.35"/><circle cx="41.9" cy="305.1" r="1.35"/><circle cx="35.4" cy="307.3" r="1.35"/><circle cx="38.7" cy="308.0" r="1.35"/><circle cx="40.6" cy="313.0" r="1.35"/><circle cx="35.4" cy="314.7" r="1.35"/><circle cx="37.1" cy="317.0" r="1.35"/><circle cx="40.6" cy="319.6" r="1.35"/><circle cx="35.4" cy="332.2" r="1.35"/><circle cx="38.7" cy="332.6" r="1.35"/><circle cx="41.9" cy="332.4" r="1.35"/><circle cx="38.7" cy="341.7" r="1.35"/><circle cx="40.6" cy="345.6" r="1.35"/><circle cx="37.1" cy="347.7" r="1.35"/><circle cx="38.7" cy="351.9" r="1.35"/><circle cx="40.6" cy="354.4" r="1.35"/><circle cx="37.1" cy="356.2" r="1.35"/><circle cx="37.1" cy="360.7" r="1.35"/><circle cx="40.6" cy="363.9" r="1.35"/><circle cx="38.7" cy="368.5" r="1.35"/><circle cx="37.2" cy="375.9" r="1.35"/><circle cx="40.6" cy="377.2" r="1.35"/><circle cx="42.3" cy="376.1" r="1.35"/><circle cx="35.5" cy="380.1" r="1.35"/><circle cx="37.2" cy="383.1" r="1.35"/><circle cx="42.3" cy="386.0" r="1.35"/><circle cx="40.6" cy="389.0" r="1.35"/><circle cx="37.2" cy="389.8" r="1.35"/><circle cx="35.5" cy="395.7" r="1.35"/><circle cx="38.9" cy="396.6" r="1.35"/><circle cx="42.3" cy="395.5" r="1.35"/><circle cx="30.9" cy="398.8" r="1.35"/><circle cx="31.8" cy="400.8" r="1.35"/><circle cx="33.5" cy="400.8" r="1.35"/><circle cx="35.2" cy="400.8" r="1.35"/><circle cx="36.9" cy="400.8" r="1.35"/><circle cx="38.6" cy="400.8" r="1.35"/><circle cx="40.3" cy="400.8" r="1.35"/><circle cx="42.0" cy="400.8" r="1.35"/><circle cx="43.7" cy="400.8" r="1.35"/><circle cx="45.4" cy="400.8" r="1.35"/><circle cx="47.1" cy="400.8" r="1.35"/></g>
<g fill="#999"><circle cx="66.6" cy="289.3" r="1.3"/><circle cx="61.5" cy="292.7" r="1.3"/><circle cx="64.9" cy="294.3" r="1.3"/><circle cx="68.4" cy="295.3" r="1.3"/><circle cx="71.5" cy="293.2" r="1.3"/><circle cx="63.1" cy="296.9" r="1.3"/><circle cx="70.0" cy="297.8" r="1.3"/><circle cx="66.6" cy="299.6" r="1.3"/><circle cx="64.9" cy="302.2" r="1.3"/><circle cx="68.4" cy="303.0" r="1.3"/><circle cx="64.9" cy="310.4" r="1.3"/><circle cx="68.4" cy="309.8" r="1.3"/><circle cx="66.6" cy="317.0" r="1.3"/><circle cx="63.1" cy="319.3" r="1.3"/><circle cx="70.0" cy="319.6" r="1.3"/><circle cx="66.6" cy="322.5" r="1.3"/><circle cx="64.9" cy="325.9" r="1.3"/><circle cx="68.4" cy="326.3" r="1.3"/><circle cx="66.6" cy="334.3" r="1.3"/><circle cx="66.6" cy="338.5" r="1.3"/><circle cx="66.6" cy="343.8" r="1.3"/><circle cx="66.6" cy="347.4" r="1.3"/><circle cx="68.1" cy="351.2" r="1.3"/><circle cx="63.1" cy="353.0" r="1.3"/><circle cx="64.9" cy="354.1" r="1.3"/><circle cx="68.1" cy="356.9" r="1.3"/><circle cx="63.1" cy="364.1" r="1.3"/><circle cx="66.6" cy="366.2" r="1.3"/><circle cx="70.0" cy="365.4" r="1.3"/><circle cx="64.9" cy="369.9" r="1.3"/><circle cx="68.4" cy="369.9" r="1.3"/><circle cx="66.6" cy="374.1" r="1.3"/><circle cx="69.9" cy="376.1" r="1.3"/><circle cx="63.1" cy="378.6" r="1.3"/><circle cx="66.8" cy="378.9" r="1.3"/><circle cx="66.5" cy="385.0" r="1.3"/><circle cx="66.5" cy="394.3" r="1.3"/><circle cx="68.0" cy="397.8" r="1.3"/><circle cx="64.7" cy="399.5" r="1.3"/><circle cx="59.2" cy="401.0" r="1.3"/><circle cx="60.8" cy="401.0" r="1.3"/><circle cx="62.5" cy="401.0" r="1.3"/><circle cx="64.1" cy="401.0" r="1.3"/><circle cx="65.8" cy="401.0" r="1.3"/><circle cx="67.5" cy="401.0" r="1.3"/><circle cx="69.1" cy="401.0" r="1.3"/><circle cx="70.8" cy="401.0" r="1.3"/><circle cx="72.4" cy="401.0" r="1.3"/><circle cx="74.1" cy="401.0" r="1.3"/></g>
<g fill="#000"><circle cx="94.6" cy="286.7" r="1.35"/><circle cx="91.1" cy="288.8" r="1.35"/><circle cx="98.0" cy="288.8" r="1.35"/><circle cx="94.6" cy="290.7" r="1.35"/><circle cx="92.9" cy="295.1" r="1.35"/><circle cx="96.1" cy="296.8" r="1.35"/><circle cx="94.6" cy="301.8" r="1.35"/><circle cx="87.6" cy="303.4" r="1.35"/><circle cx="91.1" cy="303.6" r="1.35"/><circle cx="98.0" cy="303.6" r="1.35"/><circle cx="101.1" cy="303.1" r="1.35"/><circle cx="94.6" cy="306.0" r="1.35"/><circle cx="91.1" cy="309.5" r="1.35"/><circle cx="94.6" cy="311.0" r="1.35"/><circle cx="98.0" cy="309.7" r="1.35"/><circle cx="92.9" cy="313.1" r="1.35"/><circle cx="98.0" cy="315.5" r="1.35"/><circle cx="96.1" cy="317.9" r="1.35"/><circle cx="91.1" cy="320.8" r="1.35"/><circle cx="92.9" cy="319.4" r="1.35"/><circle cx="98.0" cy="320.5" r="1.35"/><circle cx="94.6" cy="323.6" r="1.35"/><circle cx="94.6" cy="328.5" r="1.35"/><circle cx="91.1" cy="343.5" r="1.35"/><circle cx="98.0" cy="343.8" r="1.35"/><circle cx="94.6" cy="345.9" r="1.35"/><circle cx="94.6" cy="350.6" r="1.35"/><circle cx="94.6" cy="354.8" r="1.35"/><circle cx="94.6" cy="362.8" r="1.35"/><circle cx="94.5" cy="379.4" r="1.35"/><circle cx="94.5" cy="386.0" r="1.35"/><circle cx="92.7" cy="390.2" r="1.35"/><circle cx="96.0" cy="390.2" r="1.35"/><circle cx="91.0" cy="395.7" r="1.35"/><circle cx="94.5" cy="396.8" r="1.35"/><circle cx="97.7" cy="395.5" r="1.35"/><circle cx="96.0" cy="399.7" r="1.35"/><circle cx="86.8" cy="401.0" r="1.35"/><circle cx="88.5" cy="401.0" r="1.35"/><circle cx="90.2" cy="401.0" r="1.35"/><circle cx="91.9" cy="401.0" r="1.35"/><circle cx="93.6" cy="401.0" r="1.35"/><circle cx="95.3" cy="401.0" r="1.35"/><circle cx="97.0" cy="401.0" r="1.35"/><circle cx="98.7" cy="401.0" r="1.35"/><circle cx="100.4" cy="401.0" r="1.35"/><circle cx="102.1" cy="401.0" r="1.35"/></g>
<g fill="#999"><circle cx="117.3" cy="291.4" r="1.3"/><circle cx="120.7" cy="290.6" r="1.3"/><circle cx="123.8" cy="289.0" r="1.3"/><circle cx="120.7" cy="294.3" r="1.3"/><circle cx="123.8" cy="294.6" r="1.3"/><circle cx="127.2" cy="293.7" r="1.3"/><circle cx="118.8" cy="296.4" r="1.3"/><circle cx="122.3" cy="298.2" r="1.3"/><circle cx="125.8" cy="296.9" r="1.3"/><circle cx="117.3" cy="308.3" r="1.3"/><circle cx="120.7" cy="310.4" r="1.3"/><circle cx="123.8" cy="310.9" r="1.3"/><circle cx="127.2" cy="309.8" r="1.3"/><circle cx="117.3" cy="317.0" r="1.3"/><circle cx="120.7" cy="318.9" r="1.3"/><circle cx="123.8" cy="317.8" r="1.3"/><circle cx="127.2" cy="317.0" r="1.3"/><circle cx="122.3" cy="325.6" r="1.3"/><circle cx="120.5" cy="331.3" r="1.3"/><circle cx="123.8" cy="331.1" r="1.3"/><circle cx="120.5" cy="338.7" r="1.3"/><circle cx="123.8" cy="339.3" r="1.3"/><circle cx="125.4" cy="338.5" r="1.3"/><circle cx="120.5" cy="343.0" r="1.3"/><circle cx="120.5" cy="346.3" r="1.3"/><circle cx="123.8" cy="349.5" r="1.3"/><circle cx="117.3" cy="356.2" r="1.3"/><circle cx="120.5" cy="358.3" r="1.3"/><circle cx="123.8" cy="358.0" r="1.3"/><circle cx="127.2" cy="355.9" r="1.3"/><circle cx="122.3" cy="371.7" r="1.3"/><circle cx="123.8" cy="374.1" r="1.3"/><circle cx="120.5" cy="376.8" r="1.3"/><circle cx="122.3" cy="384.5" r="1.3"/><circle cx="120.7" cy="388.4" r="1.3"/><circle cx="124.0" cy="387.9" r="1.3"/><circle cx="122.3" cy="394.6" r="1.3"/><circle cx="123.9" cy="399.1" r="1.3"/><circle cx="114.8" cy="401.0" r="1.3"/><circle cx="116.4" cy="401.0" r="1.3"/><circle cx="118.1" cy="401.0" r="1.3"/><circle cx="119.8" cy="401.0" r="1.3"/><circle cx="121.5" cy="401.0" r="1.3"/><circle cx="123.2" cy="401.0" r="1.3"/><circle cx="124.9" cy="401.0" r="1.3"/><circle cx="126.5" cy="401.0" r="1.3"/><circle cx="128.2" cy="401.0" r="1.3"/><circle cx="129.9" cy="401.0" r="1.3"/></g>
<g fill="#000"><circle cx="146.6" cy="288.4" r="1.35"/><circle cx="149.9" cy="290.0" r="1.35"/><circle cx="153.4" cy="287.4" r="1.35"/><circle cx="149.9" cy="294.3" r="1.35"/><circle cx="149.9" cy="302.0" r="1.35"/><circle cx="149.9" cy="306.2" r="1.35"/><circle cx="145.3" cy="308.5" r="1.35"/><circle cx="148.5" cy="309.4" r="1.35"/><circle cx="151.6" cy="310.1" r="1.35"/><circle cx="155.0" cy="309.1" r="1.35"/><circle cx="143.4" cy="316.8" r="1.35"/><circle cx="146.8" cy="317.8" r="1.35"/><circle cx="149.9" cy="319.9" r="1.35"/><circle cx="153.4" cy="319.9" r="1.35"/><circle cx="156.9" cy="317.2" r="1.35"/><circle cx="149.9" cy="329.1" r="1.35"/><circle cx="146.8" cy="336.1" r="1.35"/><circle cx="149.9" cy="337.1" r="1.35"/><circle cx="153.4" cy="337.1" r="1.35"/><circle cx="153.4" cy="341.7" r="1.35"/><circle cx="145.3" cy="344.0" r="1.35"/><circle cx="149.9" cy="344.6" r="1.35"/><circle cx="146.8" cy="347.2" r="1.35"/><circle cx="153.4" cy="347.7" r="1.35"/><circle cx="149.9" cy="350.6" r="1.35"/><circle cx="149.9" cy="355.9" r="1.35"/><circle cx="146.8" cy="360.1" r="1.35"/><circle cx="149.9" cy="361.1" r="1.35"/><circle cx="153.4" cy="360.4" r="1.35"/><circle cx="148.5" cy="364.6" r="1.35"/><circle cx="151.8" cy="366.2" r="1.35"/><circle cx="150.2" cy="376.3" r="1.35"/><circle cx="150.2" cy="382.6" r="1.35"/><circle cx="148.5" cy="387.9" r="1.35"/><circle cx="151.9" cy="386.4" r="1.35"/><circle cx="142.3" cy="397.7" r="1.35"/><circle cx="146.8" cy="396.6" r="1.35"/><circle cx="150.2" cy="396.8" r="1.35"/><circle cx="153.5" cy="394.5" r="1.35"/><circle cx="143.2" cy="401.0" r="1.35"/><circle cx="144.9" cy="401.0" r="1.35"/><circle cx="146.5" cy="401.0" r="1.35"/><circle cx="148.2" cy="401.0" r="1.35"/><circle cx="149.9" cy="401.0" r="1.35"/><circle cx="151.6" cy="401.0" r="1.35"/><circle cx="153.3" cy="401.0" r="1.35"/><circle cx="155.0" cy="401.0" r="1.35"/><circle cx="156.7" cy="401.0" r="1.35"/><circle cx="158.3" cy="401.0" r="1.35"/></g>
<g fill="#999"><circle cx="174.6" cy="292.9" r="1.3"/><circle cx="177.9" cy="296.1" r="1.3"/><circle cx="181.4" cy="294.8" r="1.3"/><circle cx="176.2" cy="299.6" r="1.3"/><circle cx="179.6" cy="300.6" r="1.3"/><circle cx="174.6" cy="302.7" r="1.3"/><circle cx="177.9" cy="305.9" r="1.3"/><circle cx="181.4" cy="304.5" r="1.3"/><circle cx="174.6" cy="311.9" r="1.3"/><circle cx="177.9" cy="312.8" r="1.3"/><circle cx="181.4" cy="311.7" r="1.3"/><circle cx="177.9" cy="316.1" r="1.3"/><circle cx="181.4" cy="319.6" r="1.3"/><circle cx="173.0" cy="321.4" r="1.3"/><circle cx="174.8" cy="323.3" r="1.3"/><circle cx="177.9" cy="322.3" r="1.3"/><circle cx="177.9" cy="326.3" r="1.3"/><circle cx="181.4" cy="325.2" r="1.3"/><circle cx="176.2" cy="330.5" r="1.3"/><circle cx="179.6" cy="331.1" r="1.3"/><circle cx="177.9" cy="337.9" r="1.3"/><circle cx="177.9" cy="344.9" r="1.3"/><circle cx="177.9" cy="349.3" r="1.3"/><circle cx="173.0" cy="351.6" r="1.3"/><circle cx="176.2" cy="354.4" r="1.3"/><circle cx="179.6" cy="356.5" r="1.3"/><circle cx="181.1" cy="355.1" r="1.3"/><circle cx="184.6" cy="354.4" r="1.3"/><circle cx="176.2" cy="358.8" r="1.3"/><circle cx="177.9" cy="362.2" r="1.3"/><circle cx="177.9" cy="370.6" r="1.3"/><circle cx="177.9" cy="374.4" r="1.3"/><circle cx="179.6" cy="380.1" r="1.3"/><circle cx="176.2" cy="382.8" r="1.3"/><circle cx="177.9" cy="387.5" r="1.3"/><circle cx="177.9" cy="391.8" r="1.3"/><circle cx="176.2" cy="397.2" r="1.3"/><circle cx="179.6" cy="397.2" r="1.3"/><circle cx="169.9" cy="398.8" r="1.3"/><circle cx="170.8" cy="401.0" r="1.3"/><circle cx="172.5" cy="401.0" r="1.3"/><circle cx="174.2" cy="401.0" r="1.3"/><circle cx="175.9" cy="401.0" r="1.3"/><circle cx="177.7" cy="401.0" r="1.3"/><circle cx="179.4" cy="401.0" r="1.3"/><circle cx="181.2" cy="401.0" r="1.3"/><circle cx="182.9" cy="401.0" r="1.3"/><circle cx="184.6" cy="401.0" r="1.3"/><circle cx="186.3" cy="401.0" r="1.3"/></g>
<g fill="#000"><circle cx="205.7" cy="284.8" r="1.35"/><circle cx="204.2" cy="289.5" r="1.35"/><circle cx="207.6" cy="289.7" r="1.35"/><circle cx="202.3" cy="297.4" r="1.35"/><circle cx="207.6" cy="296.9" r="1.35"/><circle cx="204.2" cy="300.3" r="1.35"/><circle cx="200.7" cy="304.8" r="1.35"/><circle cx="209.1" cy="303.5" r="1.35"/><circle cx="210.8" cy="305.1" r="1.35"/><circle cx="204.2" cy="307.3" r="1.35"/><circle cx="207.6" cy="306.9" r="1.35"/><circle cx="200.7" cy="310.1" r="1.35"/><circle cx="204.2" cy="312.2" r="1.35"/><circle cx="207.6" cy="313.6" r="1.35"/><circle cx="209.1" cy="312.5" r="1.35"/><circle cx="212.3" cy="310.9" r="1.35"/><circle cx="204.2" cy="316.8" r="1.35"/><circle cx="202.3" cy="319.9" r="1.35"/><circle cx="209.1" cy="319.1" r="1.35"/><circle cx="205.7" cy="322.1" r="1.35"/><circle cx="198.1" cy="331.4" r="1.35"/><circle cx="199.9" cy="331.4" r="1.35"/><circle cx="201.7" cy="331.4" r="1.35"/><circle cx="203.5" cy="331.4" r="1.35"/><circle cx="205.3" cy="331.4" r="1.35"/><circle cx="207.1" cy="331.4" r="1.35"/><circle cx="208.8" cy="331.4" r="1.35"/><circle cx="210.6" cy="331.4" r="1.35"/><circle cx="212.4" cy="331.4" r="1.35"/><circle cx="214.2" cy="331.4" r="1.35"/><circle cx="205.7" cy="346.9" r="1.35"/><circle cx="205.7" cy="392.7" r="1.35"/></g>
<g fill="#999"><circle cx="233.7" cy="278.1" r="1.3"/><circle cx="233.7" cy="282.4" r="1.3"/><circle cx="233.7" cy="289.8" r="1.3"/><circle cx="232.2" cy="292.9" r="1.3"/><circle cx="236.9" cy="294.0" r="1.3"/><circle cx="235.3" cy="296.1" r="1.3"/><circle cx="232.2" cy="298.9" r="1.3"/><circle cx="236.9" cy="300.3" r="1.3"/><circle cx="230.3" cy="302.1" r="1.3"/><circle cx="233.7" cy="302.6" r="1.3"/><circle cx="233.7" cy="309.8" r="1.3"/><circle cx="233.7" cy="315.9" r="1.3"/><circle cx="233.3" cy="322.7" r="1.3"/><circle cx="230.1" cy="325.3" r="1.3"/><circle cx="236.8" cy="325.0" r="1.3"/><circle cx="233.3" cy="327.4" r="1.3"/><circle cx="226.0" cy="329.1" r="1.3"/><circle cx="241.2" cy="329.1" r="1.3"/><circle cx="227.0" cy="330.8" r="1.3"/><circle cx="228.9" cy="331.3" r="1.3"/><circle cx="230.8" cy="331.6" r="1.3"/><circle cx="232.7" cy="331.6" r="1.3"/><circle cx="234.6" cy="331.6" r="1.3"/><circle cx="236.5" cy="331.3" r="1.3"/><circle cx="238.4" cy="331.1" r="1.3"/><circle cx="240.3" cy="330.5" r="1.3"/><circle cx="233.7" cy="394.0" r="1.3"/><circle cx="233.7" cy="399.0" r="1.3"/></g>
<path d="M25.0,275.7 V424.5" fill="none" stroke="#111" stroke-width="1"/>
<path d="M24.5,424 H248" fill="none" stroke="#555" stroke-width="1"/>
<path d="M23.5,424.00 H25.0" stroke="#111" stroke-width="1"/>
<text transform="translate(22.8,427.00) scale(0.88,1)" font-size="8.4" fill="#333" text-anchor="end">0</text>
<path d="M23.5,377.40 H25.0" stroke="#111" stroke-width="1"/>
<text transform="translate(22.8,380.40) scale(0.88,1)" font-size="8.4" fill="#333" text-anchor="end">10</text>
<path d="M23.5,330.80 H25.0" stroke="#111" stroke-width="1"/>
<text transform="translate(22.8,333.80) scale(0.88,1)" font-size="8.4" fill="#333" text-anchor="end">20</text>
<path d="M23.5,284.20 H25.0" stroke="#111" stroke-width="1"/>
<text transform="translate(22.8,287.20) scale(0.88,1)" font-size="8.4" fill="#333" text-anchor="end">30</text>
<path d="M38.70,424 V426.5" stroke="#111" stroke-width="1"/>
<text transform="translate(42.90,432.80) rotate(-45)" font-size="9.5" fill="#111" stroke="#111" stroke-width="0.15" text-anchor="end">chin left</text>
<path d="M66.60,424 V426.5" stroke="#111" stroke-width="1"/>
<text transform="translate(70.80,432.80) rotate(-45)" font-size="9.5" fill="#111" stroke="#111" stroke-width="0.15" text-anchor="end">chin right</text>
<path d="M94.50,424 V426.5" stroke="#111" stroke-width="1"/>
<text transform="translate(98.70,432.80) rotate(-45)" font-size="9.5" fill="#111" stroke="#111" stroke-width="0.15" text-anchor="end">lower lip left</text>
<path d="M122.40,424 V426.5" stroke="#111" stroke-width="1"/>
<text transform="translate(126.60,432.80) rotate(-45)" font-size="9.5" fill="#111" stroke="#111" stroke-width="0.15" text-anchor="end">lower lip right</text>
<path d="M150.30,424 V426.5" stroke="#111" stroke-width="1"/>
<text transform="translate(154.50,432.80) rotate(-45)" font-size="9.5" fill="#111" stroke="#111" stroke-width="0.15" text-anchor="end">tongue left</text>
<path d="M178.20,424 V426.5" stroke="#111" stroke-width="1"/>
<text transform="translate(182.40,432.80) rotate(-45)" font-size="9.5" fill="#111" stroke="#111" stroke-width="0.15" text-anchor="end">tongue right</text>
<path d="M206.10,424 V426.5" stroke="#111" stroke-width="1"/>
<text transform="translate(210.30,432.80) rotate(-45)" font-size="9.5" fill="#111" stroke="#111" stroke-width="0.15" text-anchor="end">gingiva left</text>
<path d="M234.00,424 V426.5" stroke="#111" stroke-width="1"/>
<text transform="translate(238.20,432.80) rotate(-45)" font-size="9.5" fill="#111" stroke="#111" stroke-width="0.15" text-anchor="end">gingiva right</text>
<text x="136" y="260" font-size="14" font-weight="bold" fill="#000" text-anchor="middle">CPT</text>
<text transform="translate(10,348.2) rotate(-90)" font-size="9.5" fill="#111" stroke="#111" stroke-width="0.15" text-anchor="middle">°C</text>
<rect x="321.90" y="308.13" width="20.40" height="115.47" fill="#7f7f7f"/>
<rect x="350.39" y="306.53" width="20.40" height="117.07" fill="#d3d3d3"/>
<rect x="378.88" y="328.77" width="20.40" height="94.83" fill="#7f7f7f"/>
<rect x="407.37" y="323.29" width="20.40" height="100.31" fill="#d3d3d3"/>
<rect x="435.86" y="301.31" width="20.40" height="122.29" fill="#7f7f7f"/>
<rect x="464.35" y="297.69" width="20.40" height="125.91" fill="#d3d3d3"/>
<rect x="492.84" y="280.76" width="20.40" height="142.84" fill="#7f7f7f"/>
<rect x="521.33" y="279.92" width="20.40" height="143.68" fill="#d3d3d3"/>
<path d="M360.59,306.53 V298.36 M356.09,298.36 H365.09" stroke="#aaa" stroke-width="0.8" fill="none"/>
<path d="M474.55,297.69 V289.52 M470.05,289.52 H479.05" stroke="#aaa" stroke-width="0.8" fill="none"/>
<path d="M531.53,279.92 V275.71 M527.03,275.71 H536.03" stroke="#aaa" stroke-width="0.8" fill="none"/>
<g fill="#000"><circle cx="323.8" cy="272.2" r="1.35"/><circle cx="326.1" cy="272.2" r="1.35"/><circle cx="328.4" cy="272.2" r="1.35"/><circle cx="330.7" cy="272.2" r="1.35"/><circle cx="333.1" cy="272.2" r="1.35"/><circle cx="335.4" cy="272.2" r="1.35"/><circle cx="337.7" cy="272.2" r="1.35"/><circle cx="340.0" cy="272.2" r="1.35"/><circle cx="331.7" cy="276.1" r="1.35"/><circle cx="327.0" cy="278.9" r="1.35"/><circle cx="330.1" cy="280.6" r="1.35"/><circle cx="333.6" cy="279.6" r="1.35"/><circle cx="337.0" cy="278.5" r="1.35"/><circle cx="328.6" cy="285.9" r="1.35"/><circle cx="331.9" cy="287.7" r="1.35"/><circle cx="335.4" cy="285.6" r="1.35"/><circle cx="325.2" cy="291.9" r="1.35"/><circle cx="328.6" cy="293.7" r="1.35"/><circle cx="331.9" cy="295.1" r="1.35"/><circle cx="335.4" cy="295.1" r="1.35"/><circle cx="338.9" cy="292.7" r="1.35"/><circle cx="330.1" cy="299.7" r="1.35"/><circle cx="333.6" cy="299.9" r="1.35"/><circle cx="325.2" cy="303.9" r="1.35"/><circle cx="326.9" cy="306.3" r="1.35"/><circle cx="333.6" cy="305.0" r="1.35"/><circle cx="330.2" cy="307.9" r="1.35"/><circle cx="338.7" cy="307.4" r="1.35"/><circle cx="335.3" cy="309.6" r="1.35"/><circle cx="328.5" cy="314.1" r="1.35"/><circle cx="330.2" cy="313.0" r="1.35"/><circle cx="333.6" cy="312.6" r="1.35"/><circle cx="335.3" cy="314.3" r="1.35"/><circle cx="331.9" cy="316.0" r="1.35"/><circle cx="333.6" cy="318.7" r="1.35"/><circle cx="328.5" cy="321.7" r="1.35"/><circle cx="330.2" cy="324.6" r="1.35"/><circle cx="333.6" cy="326.8" r="1.35"/><circle cx="330.2" cy="333.0" r="1.35"/><circle cx="333.6" cy="333.0" r="1.35"/><circle cx="331.9" cy="336.6" r="1.35"/><circle cx="333.6" cy="339.8" r="1.35"/><circle cx="330.2" cy="342.3" r="1.35"/><circle cx="331.9" cy="349.9" r="1.35"/><circle cx="328.5" cy="360.1" r="1.35"/><circle cx="335.3" cy="360.4" r="1.35"/><circle cx="331.9" cy="362.9" r="1.35"/><circle cx="331.9" cy="371.6" r="1.35"/><circle cx="333.6" cy="372.5" r="1.35"/><circle cx="330.2" cy="375.4" r="1.35"/></g>
<g fill="#999"><circle cx="352.6" cy="272.2" r="1.3"/><circle cx="355.0" cy="272.2" r="1.3"/><circle cx="357.1" cy="272.6" r="1.3"/><circle cx="359.2" cy="272.4" r="1.3"/><circle cx="360.8" cy="274.0" r="1.3"/><circle cx="362.9" cy="272.6" r="1.3"/><circle cx="365.0" cy="272.2" r="1.3"/><circle cx="367.7" cy="272.2" r="1.3"/><circle cx="360.8" cy="274.7" r="1.3"/><circle cx="355.3" cy="276.4" r="1.3"/><circle cx="358.7" cy="278.9" r="1.3"/><circle cx="362.1" cy="277.1" r="1.3"/><circle cx="365.2" cy="276.1" r="1.3"/><circle cx="353.6" cy="281.7" r="1.3"/><circle cx="367.1" cy="281.4" r="1.3"/><circle cx="356.8" cy="284.0" r="1.3"/><circle cx="360.3" cy="284.6" r="1.3"/><circle cx="363.8" cy="283.8" r="1.3"/><circle cx="355.3" cy="287.7" r="1.3"/><circle cx="358.7" cy="288.8" r="1.3"/><circle cx="361.9" cy="288.0" r="1.3"/><circle cx="365.2" cy="287.0" r="1.3"/><circle cx="360.3" cy="295.9" r="1.3"/><circle cx="356.8" cy="299.9" r="1.3"/><circle cx="364.0" cy="301.1" r="1.3"/><circle cx="360.3" cy="302.5" r="1.3"/><circle cx="360.3" cy="307.1" r="1.3"/><circle cx="355.3" cy="309.9" r="1.3"/><circle cx="358.7" cy="311.7" r="1.3"/><circle cx="362.1" cy="310.6" r="1.3"/><circle cx="365.2" cy="309.4" r="1.3"/><circle cx="358.7" cy="315.3" r="1.3"/><circle cx="362.1" cy="318.2" r="1.3"/><circle cx="363.8" cy="317.4" r="1.3"/><circle cx="358.7" cy="321.1" r="1.3"/><circle cx="358.7" cy="325.6" r="1.3"/><circle cx="362.1" cy="326.7" r="1.3"/><circle cx="363.8" cy="325.6" r="1.3"/><circle cx="358.7" cy="329.0" r="1.3"/><circle cx="360.3" cy="333.8" r="1.3"/><circle cx="358.7" cy="346.4" r="1.3"/><circle cx="362.1" cy="346.1" r="1.3"/><circle cx="356.8" cy="352.1" r="1.3"/><circle cx="360.3" cy="353.9" r="1.3"/><circle cx="363.8" cy="351.7" r="1.3"/><circle cx="358.6" cy="365.5" r="1.3"/><circle cx="360.3" cy="364.3" r="1.3"/><circle cx="362.0" cy="368.9" r="1.3"/><circle cx="358.6" cy="380.3" r="1.3"/><circle cx="362.0" cy="378.4" r="1.3"/></g>
<g fill="#000"><circle cx="384.0" cy="272.2" r="1.35"/><circle cx="387.1" cy="274.3" r="1.35"/><circle cx="390.6" cy="274.7" r="1.35"/><circle cx="394.0" cy="272.2" r="1.35"/><circle cx="388.9" cy="281.9" r="1.35"/><circle cx="387.1" cy="287.4" r="1.35"/><circle cx="390.6" cy="287.4" r="1.35"/><circle cx="388.9" cy="293.0" r="1.35"/><circle cx="392.4" cy="294.8" r="1.35"/><circle cx="385.6" cy="296.5" r="1.35"/><circle cx="388.9" cy="296.5" r="1.35"/><circle cx="385.6" cy="301.1" r="1.35"/><circle cx="392.4" cy="302.0" r="1.35"/><circle cx="388.9" cy="304.3" r="1.35"/><circle cx="384.0" cy="308.5" r="1.35"/><circle cx="387.1" cy="310.6" r="1.35"/><circle cx="390.6" cy="311.0" r="1.35"/><circle cx="394.0" cy="310.2" r="1.35"/><circle cx="385.6" cy="317.9" r="1.35"/><circle cx="384.0" cy="321.6" r="1.35"/><circle cx="388.9" cy="320.8" r="1.35"/><circle cx="392.4" cy="320.0" r="1.35"/><circle cx="394.0" cy="322.7" r="1.35"/><circle cx="387.1" cy="324.6" r="1.35"/><circle cx="390.6" cy="324.8" r="1.35"/><circle cx="385.6" cy="331.7" r="1.35"/><circle cx="392.4" cy="332.0" r="1.35"/><circle cx="382.2" cy="335.9" r="1.35"/><circle cx="388.9" cy="334.3" r="1.35"/><circle cx="395.6" cy="335.4" r="1.35"/><circle cx="385.6" cy="338.3" r="1.35"/><circle cx="388.9" cy="338.0" r="1.35"/><circle cx="392.4" cy="337.7" r="1.35"/><circle cx="390.6" cy="340.6" r="1.35"/><circle cx="385.6" cy="343.8" r="1.35"/><circle cx="387.1" cy="342.8" r="1.35"/><circle cx="392.4" cy="343.3" r="1.35"/><circle cx="388.9" cy="346.1" r="1.35"/><circle cx="385.6" cy="356.3" r="1.35"/><circle cx="388.9" cy="359.4" r="1.35"/><circle cx="392.4" cy="359.4" r="1.35"/><circle cx="388.9" cy="367.2" r="1.35"/><circle cx="388.9" cy="372.9" r="1.35"/><circle cx="387.2" cy="377.6" r="1.35"/><circle cx="390.6" cy="379.9" r="1.35"/><circle cx="387.2" cy="384.1" r="1.35"/><circle cx="390.6" cy="383.8" r="1.35"/><circle cx="385.5" cy="388.3" r="1.35"/><circle cx="388.9" cy="388.9" r="1.35"/><circle cx="392.3" cy="387.1" r="1.35"/><circle cx="388.9" cy="392.9" r="1.35"/></g>
<g fill="#999"><circle cx="410.6" cy="272.2" r="1.3"/><circle cx="414.1" cy="272.6" r="1.3"/><circle cx="417.3" cy="273.7" r="1.3"/><circle cx="420.8" cy="272.2" r="1.3"/><circle cx="424.1" cy="272.2" r="1.3"/><circle cx="418.9" cy="281.1" r="1.3"/><circle cx="413.8" cy="283.5" r="1.3"/><circle cx="415.7" cy="285.9" r="1.3"/><circle cx="420.8" cy="289.1" r="1.3"/><circle cx="418.9" cy="291.9" r="1.3"/><circle cx="415.5" cy="294.4" r="1.3"/><circle cx="417.3" cy="300.9" r="1.3"/><circle cx="413.8" cy="304.1" r="1.3"/><circle cx="420.8" cy="305.4" r="1.3"/><circle cx="417.3" cy="307.1" r="1.3"/><circle cx="409.1" cy="307.8" r="1.3"/><circle cx="412.3" cy="309.6" r="1.3"/><circle cx="413.8" cy="311.0" r="1.3"/><circle cx="417.3" cy="310.4" r="1.3"/><circle cx="420.8" cy="308.5" r="1.3"/><circle cx="424.1" cy="307.5" r="1.3"/><circle cx="412.3" cy="314.4" r="1.3"/><circle cx="417.3" cy="313.8" r="1.3"/><circle cx="420.8" cy="313.8" r="1.3"/><circle cx="424.1" cy="314.4" r="1.3"/><circle cx="415.7" cy="317.6" r="1.3"/><circle cx="420.8" cy="317.9" r="1.3"/><circle cx="413.8" cy="321.4" r="1.3"/><circle cx="418.9" cy="321.1" r="1.3"/><circle cx="415.7" cy="323.9" r="1.3"/><circle cx="418.9" cy="325.9" r="1.3"/><circle cx="417.3" cy="329.9" r="1.3"/><circle cx="415.5" cy="332.7" r="1.3"/><circle cx="420.8" cy="335.9" r="1.3"/><circle cx="418.9" cy="337.7" r="1.3"/><circle cx="415.5" cy="339.4" r="1.3"/><circle cx="417.3" cy="342.8" r="1.3"/><circle cx="413.8" cy="344.3" r="1.3"/><circle cx="417.3" cy="347.2" r="1.3"/><circle cx="420.8" cy="346.8" r="1.3"/><circle cx="415.5" cy="354.9" r="1.3"/><circle cx="418.9" cy="357.0" r="1.3"/><circle cx="415.7" cy="362.9" r="1.3"/><circle cx="418.9" cy="362.2" r="1.3"/><circle cx="417.3" cy="373.2" r="1.3"/><circle cx="417.3" cy="378.0" r="1.3"/><circle cx="420.8" cy="381.2" r="1.3"/><circle cx="413.8" cy="383.3" r="1.3"/><circle cx="417.3" cy="384.4" r="1.3"/><circle cx="418.9" cy="394.6" r="1.3"/><circle cx="415.7" cy="396.4" r="1.3"/></g>
<g fill="#000"><circle cx="437.5" cy="272.0" r="1.35"/><circle cx="439.2" cy="272.0" r="1.35"/><circle cx="441.0" cy="272.3" r="1.35"/><circle cx="442.6" cy="273.0" r="1.35"/><circle cx="444.1" cy="274.1" r="1.35"/><circle cx="445.9" cy="274.6" r="1.35"/><circle cx="447.6" cy="274.1" r="1.35"/><circle cx="449.4" cy="273.0" r="1.35"/><circle cx="451.0" cy="272.3" r="1.35"/><circle cx="452.9" cy="272.0" r="1.35"/><circle cx="454.7" cy="272.0" r="1.35"/><circle cx="442.6" cy="277.3" r="1.35"/><circle cx="449.4" cy="276.9" r="1.35"/><circle cx="445.9" cy="279.9" r="1.35"/><circle cx="447.6" cy="282.0" r="1.35"/><circle cx="444.1" cy="283.9" r="1.35"/><circle cx="439.2" cy="288.6" r="1.35"/><circle cx="442.6" cy="290.7" r="1.35"/><circle cx="445.9" cy="290.7" r="1.35"/><circle cx="449.4" cy="289.2" r="1.35"/><circle cx="452.9" cy="287.8" r="1.35"/><circle cx="442.6" cy="294.2" r="1.35"/><circle cx="445.9" cy="295.2" r="1.35"/><circle cx="449.4" cy="294.7" r="1.35"/><circle cx="444.1" cy="299.8" r="1.35"/><circle cx="447.6" cy="300.8" r="1.35"/><circle cx="445.9" cy="305.5" r="1.35"/><circle cx="449.4" cy="307.3" r="1.35"/><circle cx="441.0" cy="309.2" r="1.35"/><circle cx="445.9" cy="310.8" r="1.35"/><circle cx="442.6" cy="311.9" r="1.35"/><circle cx="449.4" cy="312.6" r="1.35"/><circle cx="445.9" cy="314.7" r="1.35"/><circle cx="444.1" cy="320.9" r="1.35"/><circle cx="447.6" cy="323.0" r="1.35"/><circle cx="445.9" cy="329.1" r="1.35"/><circle cx="445.9" cy="336.2" r="1.35"/><circle cx="442.6" cy="338.8" r="1.35"/><circle cx="445.9" cy="341.1" r="1.35"/><circle cx="449.4" cy="340.7" r="1.35"/><circle cx="442.6" cy="344.6" r="1.35"/><circle cx="445.9" cy="346.0" r="1.35"/><circle cx="449.4" cy="344.1" r="1.35"/><circle cx="444.1" cy="351.5" r="1.35"/><circle cx="447.6" cy="350.6" r="1.35"/><circle cx="445.9" cy="364.6" r="1.35"/><circle cx="445.9" cy="384.3" r="1.35"/></g>
<g fill="#999"><circle cx="465.8" cy="272.0" r="1.3"/><circle cx="467.9" cy="272.0" r="1.3"/><circle cx="470.0" cy="272.0" r="1.3"/><circle cx="472.1" cy="272.0" r="1.3"/><circle cx="474.3" cy="272.0" r="1.3"/><circle cx="476.4" cy="272.0" r="1.3"/><circle cx="478.5" cy="272.0" r="1.3"/><circle cx="480.6" cy="272.0" r="1.3"/><circle cx="482.7" cy="272.0" r="1.3"/><circle cx="474.3" cy="273.4" r="1.3"/><circle cx="470.8" cy="277.8" r="1.3"/><circle cx="474.3" cy="278.9" r="1.3"/><circle cx="477.8" cy="276.9" r="1.3"/><circle cx="466.1" cy="280.4" r="1.3"/><circle cx="467.9" cy="281.0" r="1.3"/><circle cx="470.6" cy="282.2" r="1.3"/><circle cx="472.5" cy="282.9" r="1.3"/><circle cx="474.3" cy="283.1" r="1.3"/><circle cx="476.1" cy="282.2" r="1.3"/><circle cx="478.2" cy="281.5" r="1.3"/><circle cx="480.6" cy="280.8" r="1.3"/><circle cx="482.4" cy="281.0" r="1.3"/><circle cx="469.3" cy="284.7" r="1.3"/><circle cx="472.7" cy="285.2" r="1.3"/><circle cx="479.2" cy="284.7" r="1.3"/><circle cx="475.9" cy="287.5" r="1.3"/><circle cx="474.3" cy="290.7" r="1.3"/><circle cx="477.8" cy="293.9" r="1.3"/><circle cx="470.8" cy="294.9" r="1.3"/><circle cx="474.3" cy="296.0" r="1.3"/><circle cx="467.6" cy="311.3" r="1.3"/><circle cx="470.6" cy="311.8" r="1.3"/><circle cx="474.3" cy="312.4" r="1.3"/><circle cx="477.8" cy="311.8" r="1.3"/><circle cx="481.1" cy="311.0" r="1.3"/><circle cx="474.3" cy="317.9" r="1.3"/><circle cx="474.3" cy="326.7" r="1.3"/><circle cx="470.8" cy="335.6" r="1.3"/><circle cx="475.9" cy="335.1" r="1.3"/><circle cx="472.7" cy="338.3" r="1.3"/><circle cx="475.9" cy="341.1" r="1.3"/><circle cx="474.3" cy="349.4" r="1.3"/><circle cx="472.7" cy="353.1" r="1.3"/><circle cx="475.9" cy="354.7" r="1.3"/><circle cx="474.3" cy="358.2" r="1.3"/><circle cx="474.3" cy="379.1" r="1.3"/><circle cx="474.3" cy="383.6" r="1.3"/></g>
<g fill="#000"><circle cx="494.1" cy="272.0" r="1.35"/><circle cx="496.3" cy="272.0" r="1.35"/><circle cx="498.5" cy="272.0" r="1.35"/><circle cx="500.6" cy="272.0" r="1.35"/><circle cx="502.8" cy="272.0" r="1.35"/><circle cx="505.0" cy="272.0" r="1.35"/><circle cx="507.1" cy="272.0" r="1.35"/><circle cx="509.3" cy="272.0" r="1.35"/><circle cx="511.5" cy="272.0" r="1.35"/><circle cx="504.4" cy="273.6" r="1.35"/><circle cx="496.2" cy="276.7" r="1.35"/><circle cx="500.9" cy="275.9" r="1.35"/><circle cx="506.2" cy="277.3" r="1.35"/><circle cx="509.7" cy="276.2" r="1.35"/><circle cx="499.1" cy="279.1" r="1.35"/><circle cx="502.8" cy="279.4" r="1.35"/><circle cx="501.2" cy="283.3" r="1.35"/><circle cx="504.7" cy="282.2" r="1.35"/><circle cx="502.8" cy="291.3" r="1.35"/><circle cx="502.8" cy="298.1" r="1.35"/><circle cx="502.8" cy="302.9" r="1.35"/><circle cx="504.4" cy="304.4" r="1.35"/><circle cx="500.9" cy="307.2" r="1.35"/><circle cx="499.1" cy="309.3" r="1.35"/><circle cx="506.2" cy="309.3" r="1.35"/><circle cx="502.8" cy="312.1" r="1.35"/><circle cx="502.8" cy="325.6" r="1.35"/><circle cx="502.8" cy="334.8" r="1.35"/><circle cx="502.8" cy="342.0" r="1.35"/></g>
<g fill="#999"><circle cx="522.5" cy="272.0" r="1.3"/><circle cx="524.6" cy="272.0" r="1.3"/><circle cx="526.8" cy="272.0" r="1.3"/><circle cx="529.0" cy="272.0" r="1.3"/><circle cx="531.1" cy="272.0" r="1.3"/><circle cx="533.3" cy="272.0" r="1.3"/><circle cx="535.4" cy="272.0" r="1.3"/><circle cx="537.6" cy="272.0" r="1.3"/><circle cx="539.7" cy="272.0" r="1.3"/><circle cx="531.3" cy="273.6" r="1.3"/><circle cx="531.3" cy="282.0" r="1.3"/><circle cx="534.8" cy="284.1" r="1.3"/><circle cx="527.8" cy="286.2" r="1.3"/><circle cx="531.3" cy="287.3" r="1.3"/><circle cx="532.9" cy="291.0" r="1.3"/><circle cx="529.7" cy="292.8" r="1.3"/><circle cx="531.3" cy="302.6" r="1.3"/><circle cx="529.7" cy="311.6" r="1.3"/><circle cx="532.9" cy="311.6" r="1.3"/><circle cx="531.3" cy="317.9" r="1.3"/><circle cx="531.3" cy="322.1" r="1.3"/><circle cx="531.3" cy="330.4" r="1.3"/><circle cx="531.3" cy="348.5" r="1.3"/></g>
<path d="M317.5,272.0 V424.1" fill="none" stroke="#111" stroke-width="1"/>
<path d="M317.0,423.6 H545.8" fill="none" stroke="#555" stroke-width="1"/>
<path d="M316.0,398.33 H317.5" stroke="#111" stroke-width="1"/>
<text transform="translate(315.3,401.33) scale(0.88,1)" font-size="8.4" fill="#333" text-anchor="end">35</text>
<path d="M316.0,356.22 H317.5" stroke="#111" stroke-width="1"/>
<text transform="translate(315.3,359.22) scale(0.88,1)" font-size="8.4" fill="#333" text-anchor="end">40</text>
<path d="M316.0,314.11 H317.5" stroke="#111" stroke-width="1"/>
<text transform="translate(315.3,317.11) scale(0.88,1)" font-size="8.4" fill="#333" text-anchor="end">45</text>
<path d="M316.0,272.00 H317.5" stroke="#111" stroke-width="1"/>
<text transform="translate(315.3,275.00) scale(0.88,1)" font-size="8.4" fill="#333" text-anchor="end">50</text>
<path d="M332.10,423.6 V426.1" stroke="#111" stroke-width="1"/>
<text transform="translate(335.10,433.00) rotate(-45)" font-size="9.5" fill="#111" stroke="#111" stroke-width="0.15" text-anchor="end">chin left</text>
<path d="M360.59,423.6 V426.1" stroke="#111" stroke-width="1"/>
<text transform="translate(363.59,433.00) rotate(-45)" font-size="9.5" fill="#111" stroke="#111" stroke-width="0.15" text-anchor="end">chin right</text>
<path d="M389.08,423.6 V426.1" stroke="#111" stroke-width="1"/>
<text transform="translate(392.08,433.00) rotate(-45)" font-size="9.5" fill="#111" stroke="#111" stroke-width="0.15" text-anchor="end">lower lip left</text>
<path d="M417.57,423.6 V426.1" stroke="#111" stroke-width="1"/>
<text transform="translate(420.57,433.00) rotate(-45)" font-size="9.5" fill="#111" stroke="#111" stroke-width="0.15" text-anchor="end">lower lip right</text>
<path d="M446.06,423.6 V426.1" stroke="#111" stroke-width="1"/>
<text transform="translate(449.06,433.00) rotate(-45)" font-size="9.5" fill="#111" stroke="#111" stroke-width="0.15" text-anchor="end">tongue left</text>
<path d="M474.55,423.6 V426.1" stroke="#111" stroke-width="1"/>
<text transform="translate(477.55,433.00) rotate(-45)" font-size="9.5" fill="#111" stroke="#111" stroke-width="0.15" text-anchor="end">tongue right</text>
<path d="M503.04,423.6 V426.1" stroke="#111" stroke-width="1"/>
<text transform="translate(506.04,433.00) rotate(-45)" font-size="9.5" fill="#111" stroke="#111" stroke-width="0.15" text-anchor="end">gingiva left</text>
<path d="M531.53,423.6 V426.1" stroke="#111" stroke-width="1"/>
<text transform="translate(534.53,433.00) rotate(-45)" font-size="9.5" fill="#111" stroke="#111" stroke-width="0.15" text-anchor="end">gingiva right</text>
<text x="431.6" y="260" font-size="14" font-weight="bold" fill="#000" text-anchor="middle">HPT</text>
<text transform="translate(302,346.1) rotate(-90)" font-size="9.5" fill="#111" stroke="#111" stroke-width="0.15" text-anchor="middle">°C</text>
</svg></body></html>
